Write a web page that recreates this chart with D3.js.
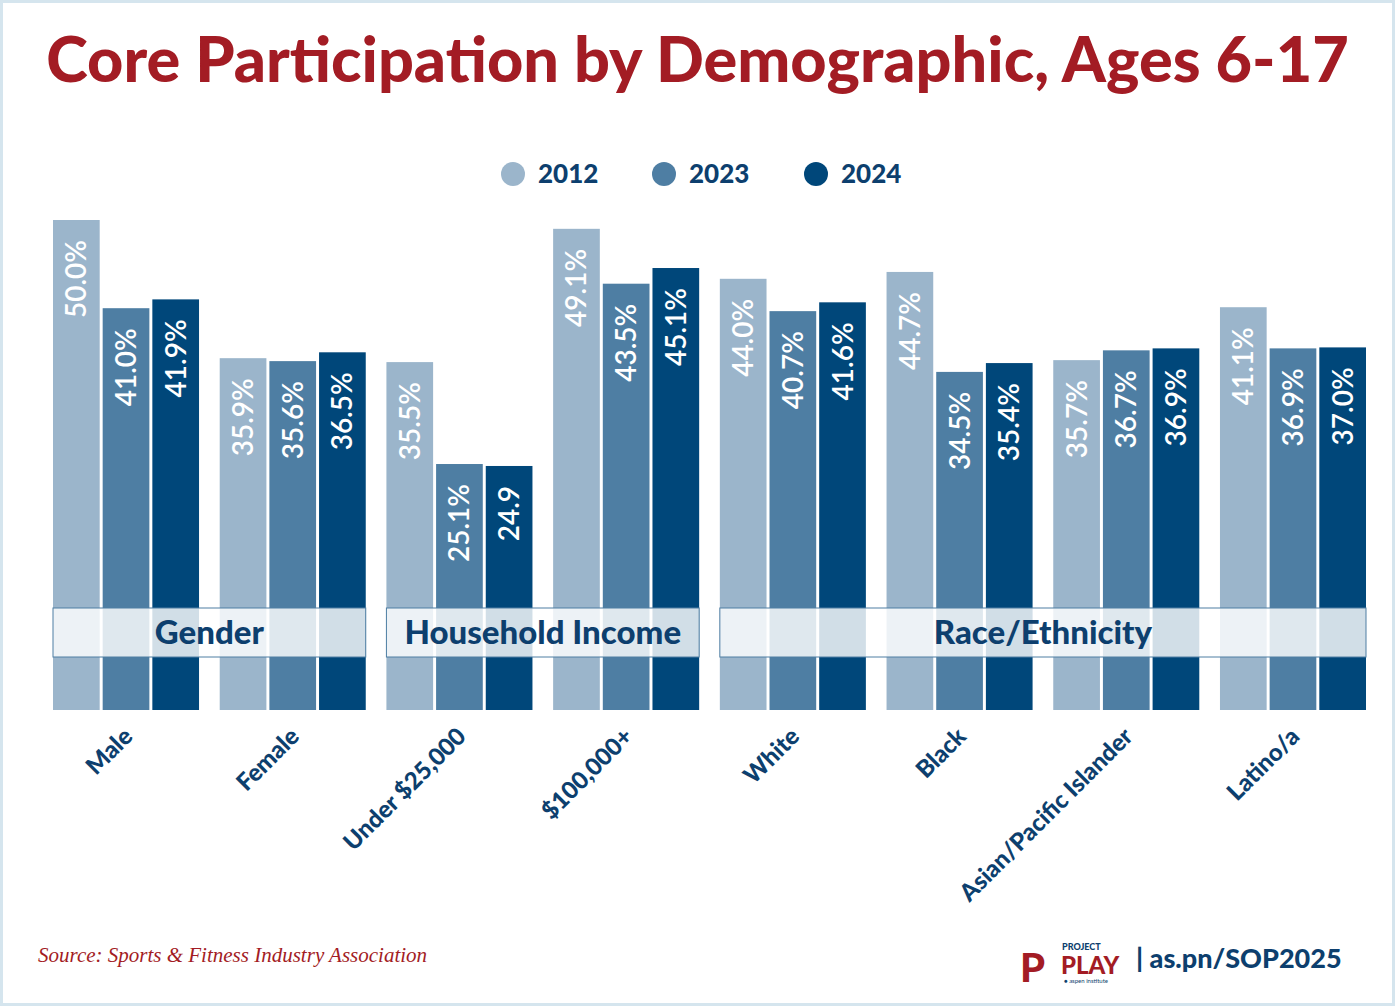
<!DOCTYPE html>
<html><head><meta charset="utf-8">
<script src="https://cdn.jsdelivr.net/npm/d3@7"></script>
<style>body{margin:0;background:#fff}svg{display:block}</style>
</head><body>
<script>
const categories=["Male","Female","Under $25,000","$100,000+","White","Black","Asian/Pacific Islander","Latino/a"];
const years=["2012","2023","2024"];
const v2012=[50.0,35.9,35.5,49.1,44.0,44.7,35.7,41.1];
const v2023=[41.0,35.6,25.1,43.5,40.7,34.5,36.7,36.9];
const v2024=[41.9,36.5,24.9,45.1,41.6,35.4,36.9,37.0];
const labels2024=["41.9%","36.5%","24.9","45.1%","41.6%","35.4%","36.9%","37.0%"];
const groups=[{name:"Gender",from:0,to:1},{name:"Household Income",from:2,to:3},{name:"Race/Ethnicity",from:4,to:7}];
const colors=["#9bb5cb","#4e7ea3","#00477a"];
const W=1395,H=1006,navy="#0d3f6e",red="#a31c24";
const svg=d3.select("body").append("svg").attr("width",W).attr("height",H);
svg.append("rect").attr("x",1.5).attr("y",1.5).attr("width",W-3).attr("height",H-3).attr("fill","#fff").attr("stroke","#d5e5ee").attr("stroke-width",3);
svg.append("text").attr("x",W/2).attr("y",82).attr("text-anchor","middle").attr("font-family","Lato").attr("font-weight",900).attr("font-size",63).attr("fill",red).text("Core Participation by Demographic, Ages 6-17");
const lx=[513,664,816];
years.forEach((y,i)=>{svg.append("circle").attr("cx",lx[i]).attr("cy",174).attr("r",12).attr("fill",colors[i]);
svg.append("text").attr("x",lx[i]+25).attr("y",183).attr("font-family","Lato").attr("font-weight",900).attr("font-size",26).attr("fill",navy).text(y);});
const x0=d3.scaleBand().domain(categories).range([53,1366]).paddingInner(0.124).paddingOuter(0);
const x1=d3.scaleBand().domain(years).range([0,x0.bandwidth()]).paddingInner(0.06);
const y=d3.scaleLinear().domain([0,50]).range([710,220]);
const series=[v2012,v2023,v2024];
categories.forEach((c,ci)=>{
 series.forEach((s,si)=>{
  const bx=x0(c)+x1(years[si]),bw=x1.bandwidth(),v=s[ci];
  svg.append("rect").attr("x",bx).attr("y",y(v)).attr("width",bw).attr("height",y(0)-y(v)).attr("fill",colors[si]);
  const lab=si==2?labels2024[ci]:v.toFixed(1)+"%";
  svg.append("text").attr("transform",`translate(${bx+bw/2+10},${y(v)+20}) rotate(-90)`).attr("text-anchor","end").attr("font-family","Lato").attr("font-weight",600).attr("font-size",28).attr("fill","#fff").text(lab);
 });
 const cx=x0(c)+x0.bandwidth()/2+8;
 svg.append("text").attr("transform",`translate(${cx},738) rotate(-45)`).attr("text-anchor","end").attr("font-family","Lato").attr("font-weight",900).attr("font-size",24).attr("fill",navy).text(c);
});
groups.forEach(g=>{
 const a=x0(categories[g.from]),b=x0(categories[g.to])+x0.bandwidth();
 svg.append("rect").attr("x",a).attr("y",608).attr("width",b-a).attr("height",49).attr("fill","rgba(255,255,255,0.82)").attr("stroke","#4e7ea3").attr("stroke-width",1);
 svg.append("text").attr("x",(a+b)/2).attr("y",644).attr("text-anchor","middle").attr("font-family","Lato").attr("font-weight",900).attr("font-size",33).attr("fill",navy).text(g.name);
});
svg.append("text").attr("x",38).attr("y",962).attr("font-family","Liberation Serif").attr("font-style","italic").attr("font-size",21).attr("fill",red).text("Source: Sports & Fitness Industry Association");
const lg=svg.append("g");
lg.append("text").attr("x",1020).attr("y",982).attr("font-family","Lato").attr("font-weight",900).attr("font-size",40).attr("fill",red).text("P");
lg.append("text").attr("x",1062).attr("y",950).attr("font-family","Lato").attr("font-weight",900).attr("font-size",9).attr("fill",navy).text("PROJECT");
lg.append("text").attr("x",1061).attr("y",974).attr("font-family","Lato").attr("font-weight",900).attr("font-size",24).attr("fill",red).text("PLAY");
lg.append("text").attr("x",1064).attr("y",983).attr("font-family","Lato").attr("font-size",6).attr("fill",navy).text("● aspen institute");
svg.append("text").attr("x",1136).attr("y",968).attr("font-family","Lato").attr("font-weight",900).attr("font-size",27).attr("fill",navy).text("| as.pn/SOP2025");
</script>
</body></html>
